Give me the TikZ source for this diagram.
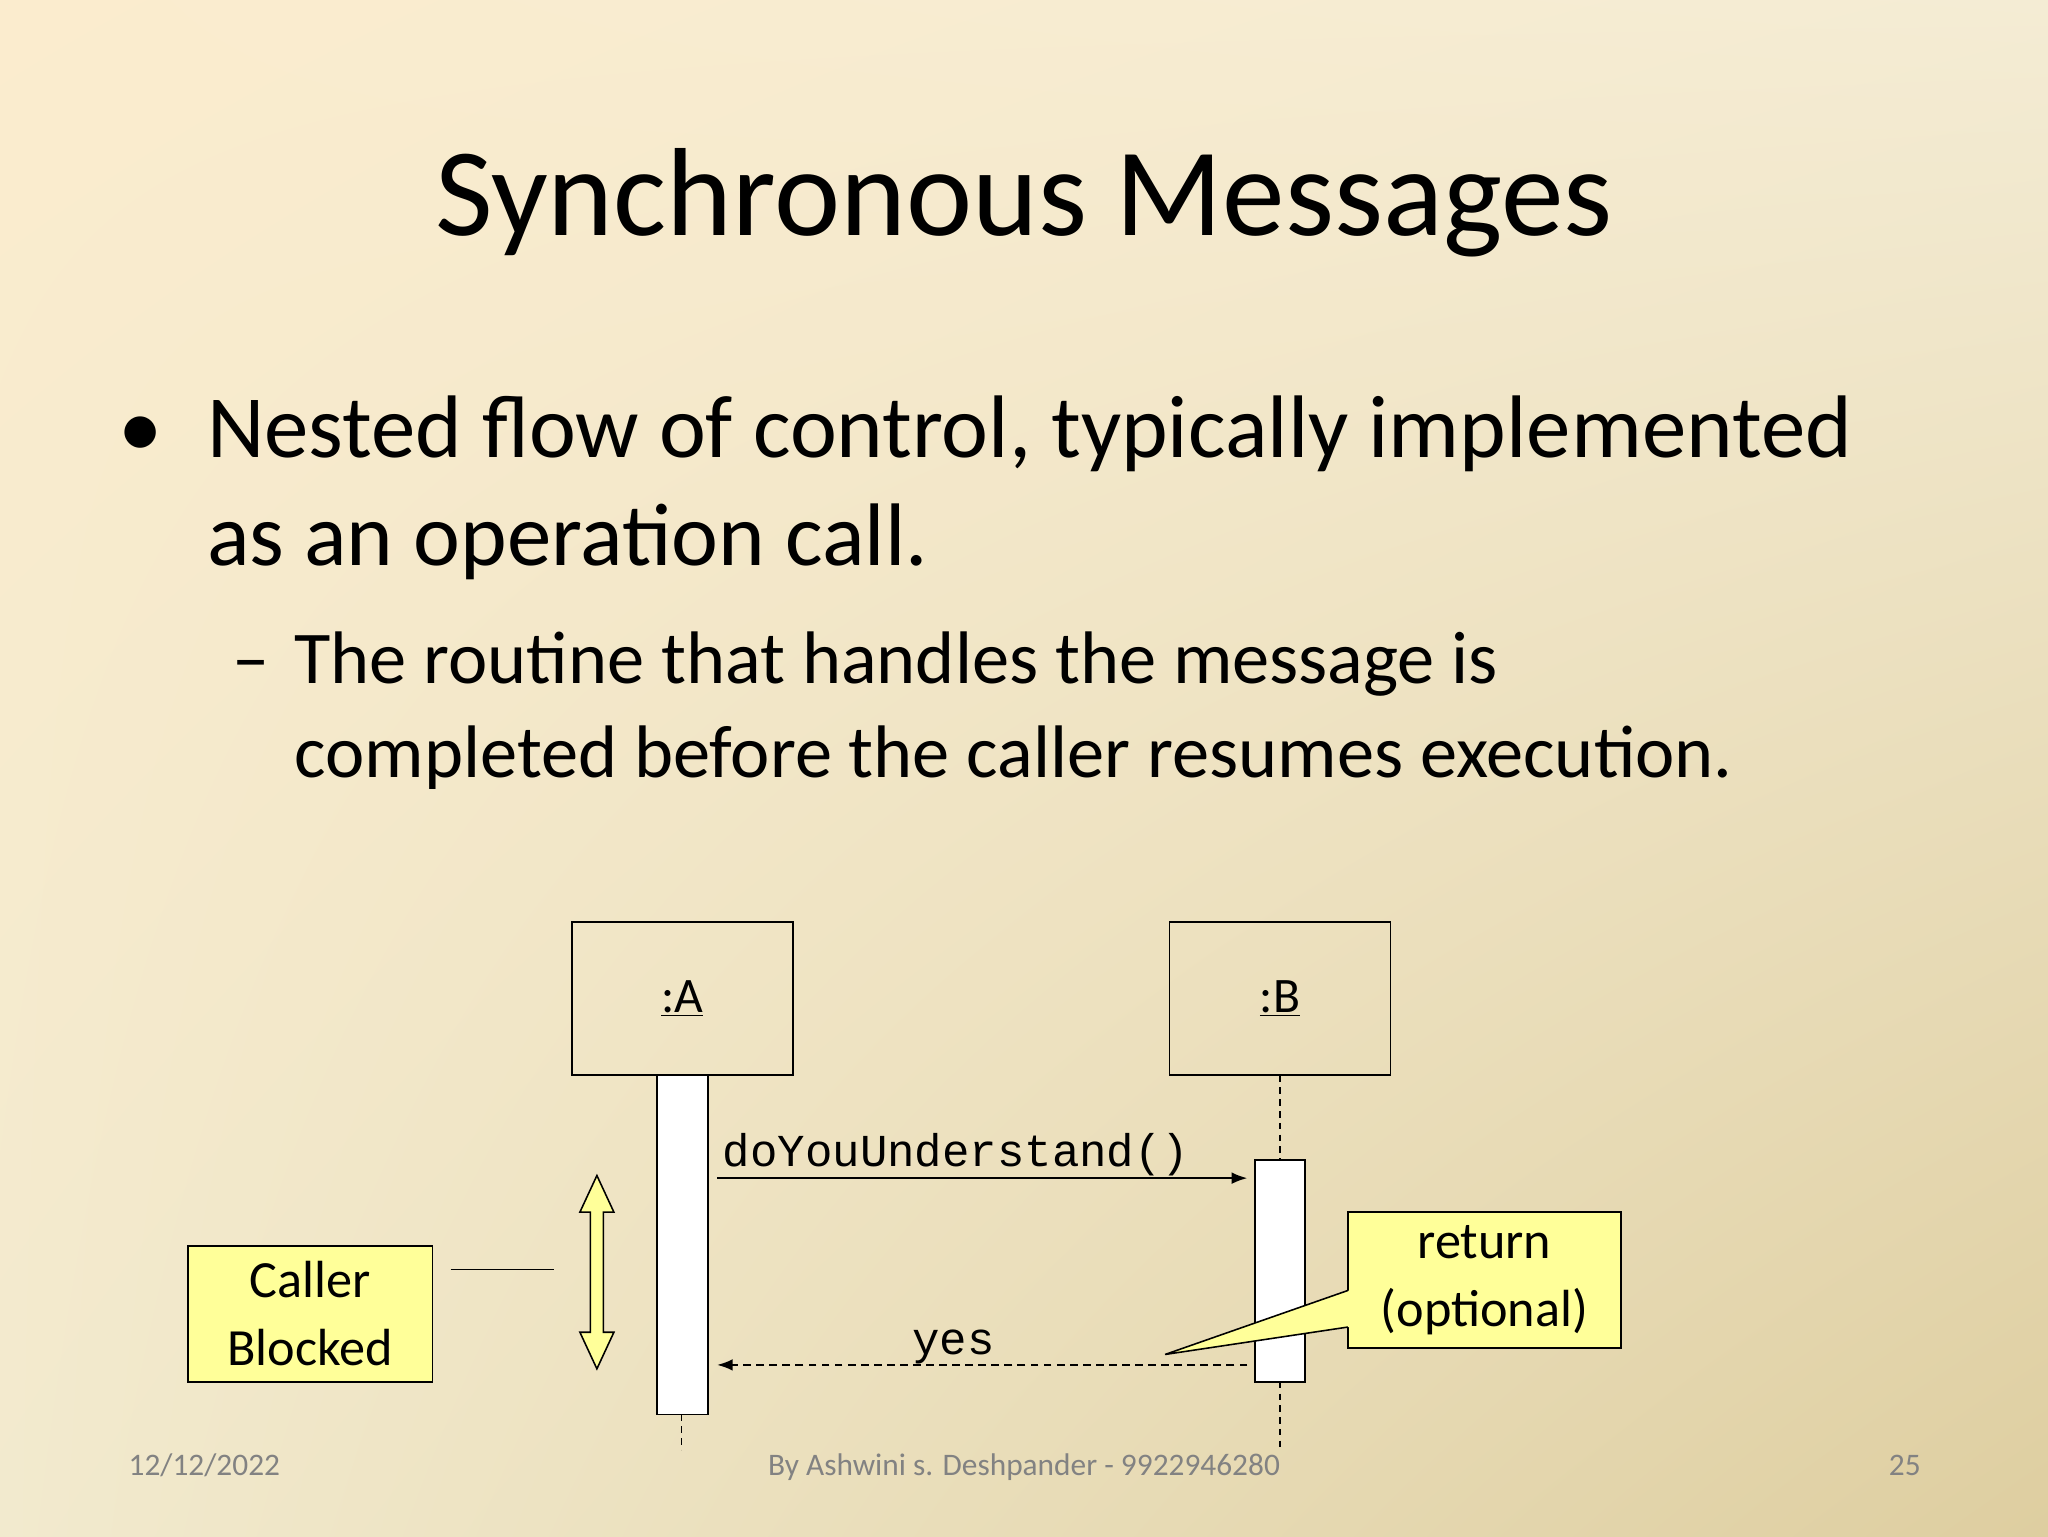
\documentclass[tikz,border=0pt]{standalone}
\usepackage{fontspec}
\setmainfont{Carlito}
\newfontfamily\monof{Liberation Mono}
\usetikzlibrary{arrows.meta,shadings}
\definecolor{noteY}{RGB}{255,255,153}
\definecolor{footG}{RGB}{130,130,130}
\definecolor{bgUL}{RGB}{251,236,206}
\definecolor{bgUR}{RGB}{244,236,212}
\definecolor{bgLL}{RGB}{242,234,206}
\definecolor{bgLR}{RGB}{222,206,160}
\tikzset{
  obj/.style={draw, line width=1.2pt, minimum width=169pt, minimum height=117pt, font=\fontsize{38}{40}\selectfont},
  act/.style={draw, fill=white, line width=1.2pt},
  note/.style={draw, fill=noteY, line width=1.2pt, align=center, font=\fontsize{40}{52}\selectfont},
  msg/.style={line width=1.6pt, -{Latex[length=12pt,width=9pt]}},
  life/.style={line width=1pt, dashed, dash pattern=on 5pt off 4pt},
  foot/.style={text=footG, font=\fontsize{24}{26}\selectfont}
}
\begin{document}
\begin{tikzpicture}[x=1pt,y=-1pt]
\shade[upper left=bgUL, upper right=bgUR, lower left=bgLL, lower right=bgLR]
 (0,0) rectangle (1568,1176);
\useasboundingbox (0,0) rectangle (1568,1176);
\node[anchor=base, font=\fontsize{96}{100}\selectfont] (title) at (784,180) {Synchronous Messages};
\node[anchor=base west, font=\fontsize{68}{80}\selectfont] (b1) at (155,350) {Nested flow of control, typically implemented};
\node[anchor=base west, font=\fontsize{68}{80}\selectfont] (b2) at (155,433) {as an operation call.};
\node[anchor=base, font=\fontsize{68}{80}\selectfont] (dot) at (108,350) {•};
\node[anchor=base west, font=\fontsize{57}{70}\selectfont] (s1) at (222,523) {The routine that handles the message is};
\node[anchor=base west, font=\fontsize{57}{70}\selectfont] (s2) at (222,595) {completed before the caller resumes execution.};
\node[anchor=base east, font=\fontsize{57}{70}\selectfont] (dash) at (210,523) {–};
% objects
\node[obj] (A) at (522.5,764.5) {\underline{:A}};
\node[obj] (B) at (980,764.5) {\underline{:B}};
% lifelines
\coordinate (Aend) at (522,1110);
\coordinate (Bend) at (980,1110);
\draw[life] (522,1083) -- (Aend);
\draw[life] (B.south) -- (980,888);
\draw[life] (980,1058) -- (Bend);
% activations
\draw[act] (503,823) rectangle (542,1083);
\draw[act] (961,888) rectangle (999,1058);
\coordinate (m1s) at (549,902); \coordinate (m1e) at (955,902);
\draw[msg] (m1s) -- (m1e);
\node[anchor=base west, font=\monof\fontsize{35}{36}\selectfont] (m1l) at (550,893) {doYouUnderstand()};
\coordinate (m2s) at (955,1045); \coordinate (m2e) at (549,1045);
\draw[msg, dashed, dash pattern=on 6pt off 4pt] (m2s) -- (m2e);
\node[anchor=base, font=\monof\fontsize{35}{36}\selectfont] (m2l) at (730,1037) {yes};
% double arrow
\draw[fill=noteY, line width=1.2pt, line join=miter]
 (457,900) -- (470,928) -- (462,928) -- (462,1020) -- (470,1020) -- (457,1048) -- (444,1020) -- (452,1020) -- (452,928) -- (444,928) -- cycle;
% caller blocked
\node[note, minimum width=187pt, minimum height=104pt] (cb) at (237.5,1006) {Caller\\Blocked};
\coordinate (cl1) at (345,972); \coordinate (cl2) at (424,972);
\draw[line width=1.2pt] (cl1) -- (cl2);
% return note with callout
\node[note, minimum width=209pt, minimum height=104pt] (rn) at (1136.5,980) {return\\(optional)};
\fill[noteY] (1033,988) -- (892,1037) -- (1033,1016) -- cycle;
\draw[line width=1.2pt] (1032,988) -- (892,1037) -- (1032,1016);
% footer
\node[foot, anchor=base west] (f1) at (95,1130) {12/12/2022};
\node[foot, anchor=base] (f2) at (784,1130) {By Ashwini s. Deshpander - 9922946280};
\node[foot, anchor=base east] (f3) at (1474,1130) {25};
\end{tikzpicture}
\end{document}
